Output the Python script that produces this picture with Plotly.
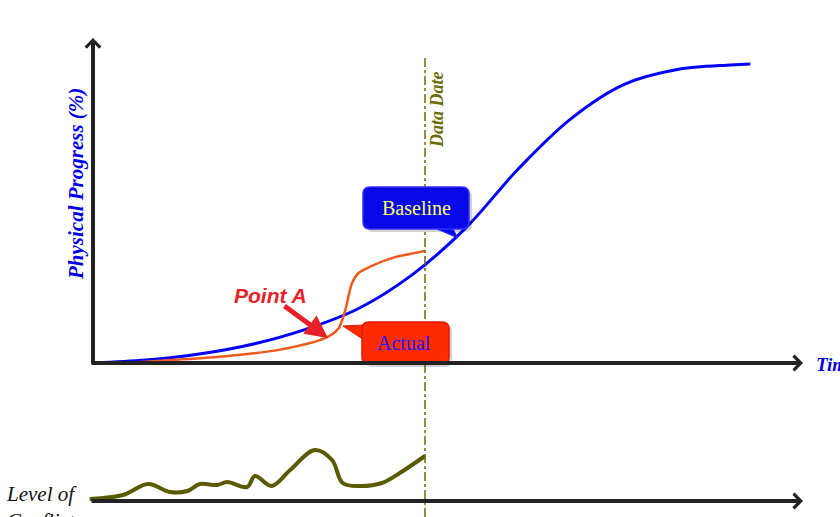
import plotly.graph_objects as go

# Valores (tempo em % do prazo, progresso em %)
tempo_base = [0, 8, 16, 24, 32, 40, 48, 56, 64, 72, 80, 88, 96, 99]
progresso_base = [0, 1.0, 3.0, 6.3, 11.3, 18.3, 29.5, 45, 65, 82, 93.5, 98.5, 100, 100.3]

tempo_real = [5, 12, 20, 28, 35, 37, 38, 39, 40, 42, 45, 50]
progresso_real = [0, 1.0, 2.3, 4.4, 8.4, 11.7, 17.8, 26.8, 30.2, 32.6, 35.2, 37.6]

tempo_conflito = [-0.5, 4.5, 8.3, 11.6, 14.2, 16.1, 18.7, 20.2, 23.2, 24.4, 26.9,
                  29.7, 33.4, 36.0, 37.6, 40.2, 43.5, 46.2, 50]
nivel_conflito = [0.2, 1, 3.2, 1.6, 1.8, 3.2, 3, 3.6, 2.6, 4.8, 2.8,
                  6, 10, 8, 3.4, 2.8, 3.4, 5.4, 8.8]

data_date = 50

W, H = 840, 517


# conversão de pixel para coordenadas do papel
def px(x):
    return x / W


def py(y):
    return 1 - y / H


fig = go.Figure()

fig.add_trace(go.Scatter(
    x=tempo_base, y=progresso_base, mode='lines', name='Baseline',
    line=dict(color='#0000ff', width=3, shape='spline', smoothing=1.0)
))
fig.add_trace(go.Scatter(
    x=tempo_real, y=progresso_real, mode='lines', name='Actual',
    line=dict(color='#f05a1e', width=2.5, shape='spline', smoothing=0.8)
))
fig.add_trace(go.Scatter(
    x=tempo_conflito, y=nivel_conflito, mode='lines', name='Conflict', yaxis='y2',
    line=dict(color='#5a5a00', width=4, shape='spline', smoothing=1.0)
))

shapes = []
# linha da data de corte
shapes.append(dict(type='line', xref='x', yref='paper', x0=data_date, x1=data_date,
                   y0=py(517), y1=py(55),
                   line=dict(color='#6b6b00', width=1.5, dash='dashdot')))


def caixa(x0, y0, x1, y1, r):
    return (f"M{px(x0 + r)},{py(y0)} L{px(x1 - r)},{py(y0)} "
            f"Q{px(x1)},{py(y0)} {px(x1)},{py(y0 + r)} "
            f"L{px(x1)},{py(y1 - r)} Q{px(x1)},{py(y1)} {px(x1 - r)},{py(y1)} "
            f"L{px(x0 + r)},{py(y1)} Q{px(x0)},{py(y1)} {px(x0)},{py(y1 - r)} "
            f"L{px(x0)},{py(y0 + r)} Q{px(x0)},{py(y0)} {px(x0 + r)},{py(y0)} Z")


def balao(x0, y0, x1, y1, cauda, cor, borda, r=7):
    tri = "M" + " L".join(f"{px(a)},{py(b)}" for a, b in cauda) + " Z"
    return [
        dict(type='path', xref='paper', yref='paper', path=caixa(x0 + 3, y0 + 3, x1 + 3, y1 + 3, r),
             fillcolor='rgba(0,0,0,0.18)', line=dict(width=0)),
        dict(type='path', xref='paper', yref='paper', path=tri,
             fillcolor=cor, line=dict(color=borda, width=1)),
        dict(type='path', xref='paper', yref='paper', path=caixa(x0, y0, x1, y1, r),
             fillcolor=cor, line=dict(color=borda, width=1.5)),
    ]


shapes += balao(363, 187, 469, 229, [(432, 227), (452, 227), (458, 238)], '#0808e8', '#3030ff')
shapes += balao(362, 322, 449, 364, [(364, 325), (364, 340), (343, 326)], '#ff2a00', '#e01800')

annotations = []


def seta(x0, y0, x1, y1, cor='#222222', largura=4, cabeca=4, tamanho=0.7):
    annotations.append(dict(
        xref='paper', yref='paper', axref='pixel', ayref='pixel',
        x=px(x1), y=py(y1), ax=x0 - x1, ay=y0 - y1, text='',
        showarrow=True, arrowhead=cabeca, arrowsize=tamanho,
        arrowwidth=largura, arrowcolor=cor, standoff=0
    ))


seta(93, 365, 93, 38)
seta(90, 363, 803, 363)
seta(90, 501, 803, 501)
seta(283, 305, 328, 338, cor='#e8202a', largura=5, cabeca=2, tamanho=0.9)


def texto(x, y, t, tam, cor, familia='Liberation Serif', angulo=0, xa='center', ya='middle'):
    annotations.append(dict(
        xref='paper', yref='paper', x=px(x), y=py(y), text=t, textangle=angulo,
        xanchor=xa, yanchor=ya, align='left', showarrow=False,
        font=dict(family=familia, size=tam, color=cor)
    ))


texto(76, 184, '<b><i>Physical Progress (%)</i></b>', 21, '#0000e6', angulo=-90)
texto(814, 364, '<b><i>Time</i></b>', 19, '#0000e6', xa='left')
texto(437, 110, '<b><i>Data Date</i></b>', 18, '#6b6b00', angulo=-90)
texto(4, 480, '<i>Level of<br>Conflict</i>', 21, '#111111', xa='left', ya='top')
texto(416, 208, 'Baseline', 20, '#ffff66')
texto(404, 343, 'Actual', 20, '#1a1aff')
texto(270, 295, '<b><i>Point A</i></b>', 21, '#e8202a', familia='Liberation Sans')

fig.update_layout(
    width=W, height=H,
    margin=dict(l=0, r=0, t=0, b=0),
    paper_bgcolor='white', plot_bgcolor='white',
    showlegend=False,
    xaxis=dict(range=[-93 / 6.64, (W - 93) / 6.64], visible=False, fixedrange=True),
    yaxis=dict(range=[(363 - H) / 2.98, 363 / 2.98], visible=False, fixedrange=True),
    yaxis2=dict(range=[(500 - H) / 5, 500 / 5], overlaying='y', visible=False, fixedrange=True),
    shapes=shapes,
    annotations=annotations,
)

fig.write_html("out.html", config={'displayModeBar': False},
               post_script="document.body.style.margin='0px';")
